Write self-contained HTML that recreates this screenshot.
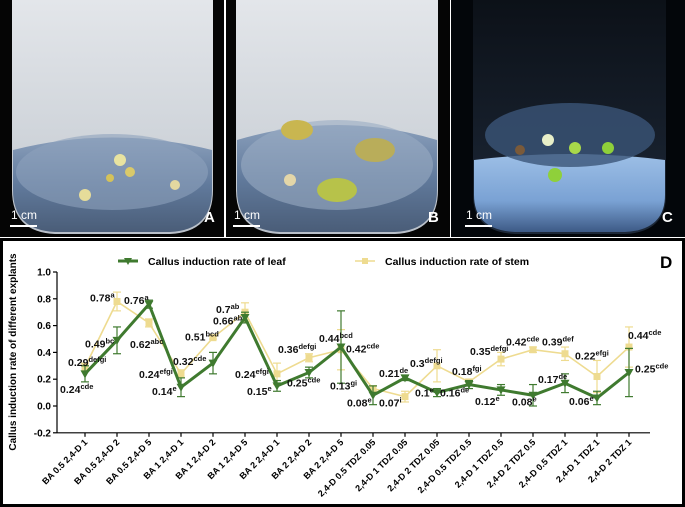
<!DOCTYPE html>
<html><head><meta charset="utf-8"><style>
body{margin:0;background:#fff;width:685px;height:507px;overflow:hidden;font-family:"Liberation Sans",sans-serif}
svg{display:block}
</style></head><body>
<svg id="fig" width="685" height="507" viewBox="0 0 685 507" xmlns="http://www.w3.org/2000/svg">
<defs>
<linearGradient id="glassA" x1="0" y1="0" x2="0" y2="1"><stop offset="0" stop-color="#e3e6ea"/><stop offset="0.6" stop-color="#cfd4da"/><stop offset="1" stop-color="#b9c0c9"/></linearGradient>
<linearGradient id="liqA" x1="0" y1="0" x2="0" y2="1"><stop offset="0" stop-color="#8a9fbb"/><stop offset="0.5" stop-color="#617a9c"/><stop offset="1" stop-color="#4a5d78"/></linearGradient>
<linearGradient id="glassC" x1="0" y1="0" x2="0" y2="1"><stop offset="0" stop-color="#0c1118"/><stop offset="1" stop-color="#1d2838"/></linearGradient>
<linearGradient id="liqC" x1="0" y1="0" x2="0" y2="1"><stop offset="0" stop-color="#9dbfe6"/><stop offset="0.6" stop-color="#7aa2d4"/><stop offset="1" stop-color="#3d5a86"/></linearGradient>
</defs>
<g>
<rect x="0" y="0" width="224" height="237" fill="#050505"/>
<path d="M12 0 H213 V190 Q213 232 170 234 H55 Q12 232 12 190 Z" fill="url(#glassA)"/>
<path d="M13 150 Q112 125 212 150 V190 Q212 230 170 232 H55 Q13 230 13 190 Z" fill="url(#liqA)"/>
<ellipse cx="112" cy="172" rx="96" ry="38" fill="#8ea2bd" opacity="0.6"/>
<circle cx="120" cy="160" r="6" fill="#e8e3a0"/><circle cx="130" cy="172" r="5" fill="#d9c96a"/><circle cx="85" cy="195" r="6" fill="#e6dc9a"/><circle cx="175" cy="185" r="5" fill="#e3d8a0"/><circle cx="110" cy="178" r="4" fill="#d4c25a"/>
<rect x="10" y="225" width="27" height="2" fill="#fff"/>
<text x="11" y="219" font-size="12" fill="#fff">1 cm</text>
<text x="204" y="222" font-size="15" font-weight="bold" fill="#fff">A</text>
</g>
<g>
<rect x="226" y="0" width="224" height="237" fill="#050505"/>
<path d="M236 0 H438 V190 Q438 232 395 234 H280 Q236 232 236 190 Z" fill="url(#glassA)"/>
<path d="M237 140 Q337 110 437 140 V190 Q437 230 395 232 H280 Q237 230 237 190 Z" fill="url(#liqA)"/>
<ellipse cx="337" cy="165" rx="96" ry="45" fill="#99abc3" opacity="0.6"/>
<ellipse cx="297" cy="130" rx="16" ry="10" fill="#c9b650"/><ellipse cx="375" cy="150" rx="20" ry="12" fill="#b9ad5a"/><ellipse cx="337" cy="190" rx="20" ry="12" fill="#b7c24a"/><circle cx="290" cy="180" r="6" fill="#e3d6a8"/>
<rect x="233" y="225" width="27" height="2" fill="#fff"/>
<text x="234" y="219" font-size="12" fill="#fff">1 cm</text>
<text x="428" y="222" font-size="15" font-weight="bold" fill="#fff">B</text>
</g>
<g>
<rect x="451" y="0" width="234" height="237" fill="#03060a"/>
<path d="M473 0 H666 V195 Q666 232 625 234 H515 Q473 232 473 195 Z" fill="url(#glassC)"/>
<path d="M474 160 Q570 148 665 160 V195 Q665 230 625 232 H515 Q474 230 474 195 Z" fill="url(#liqC)"/>
<ellipse cx="570" cy="135" rx="85" ry="32" fill="#3b5578" opacity="0.8"/>
<circle cx="548" cy="140" r="6" fill="#e8efc8"/><circle cx="575" cy="148" r="6" fill="#a8d84a"/><circle cx="608" cy="148" r="6" fill="#8fd03a"/><circle cx="555" cy="175" r="7" fill="#8fd03a"/><circle cx="520" cy="150" r="5" fill="#7a5a3a"/>
<rect x="465" y="225" width="27" height="2" fill="#fff"/>
<text x="466" y="219" font-size="12" fill="#fff">1 cm</text>
<text x="662" y="222" font-size="15" font-weight="bold" fill="#fff">C</text>
</g>
<rect x="1.5" y="239.5" width="682" height="266" fill="#fff" stroke="#000" stroke-width="3"/>
<text x="660" y="268" font-size="17" font-weight="bold">D</text>
<text transform="translate(16,352) rotate(-90)" text-anchor="middle" font-size="10" font-weight="bold">Callus induction rate of different explants</text>
<g>
<g><line x1="118" y1="261" x2="138" y2="261" stroke="#3f7a2f" stroke-width="3"/><path d="M124 258 H132 L128 265 Z" fill="#3f7a2f"/><text x="148" y="265" font-size="10.5" font-weight="bold">Callus induction rate of leaf</text></g>
<g><line x1="355" y1="261" x2="375" y2="261" stroke="#eedb90" stroke-width="1.5"/><rect x="362" y="258" width="6" height="6" fill="#eedb90"/><text x="385" y="265" font-size="10.5" font-weight="bold">Callus induction rate of stem</text></g>
</g>
<g id="plot"></g>
</svg>
<script>
const categories=["BA 0.5 2,4-D 1","BA 0.5 2,4-D 2","BA 0.5 2,4-D 5","BA 1 2,4-D 1","BA 1 2,4-D 2","BA 1 2,4-D 5","BA 2 2,4-D 1","BA 2 2,4-D 2","BA 2 2,4-D 5","2,4-D 0.5 TDZ 0.05","2,4-D 1 TDZ 0.05","2,4-D 2 TDZ 0.05","2,4-D 0.5 TDZ 0.5","2,4-D 1 TDZ 0.5","2,4-D 2 TDZ 0.5","2,4-D 0.5 TDZ 1","2,4-D 1 TDZ 1","2,4-D 2 TDZ 1"];
const leafValues=[0.24,0.49,0.76,0.14,0.32,0.66,0.15,0.25,0.44,0.08,0.21,0.1,0.16,0.12,0.08,0.17,0.06,0.25];
const leafErrors=[0.06,0.1,0.03,0.07,0.08,0.04,0.04,0.04,0.27,0.07,0.02,0.03,0.03,0.04,0.08,0.07,0.05,0.18];
const leafLetters=["cde","bc","a","e","cde","ab","e","cde","bcd","e","de","e","de","e","e","de","e","cde"];
const stemValues=[0.29,0.78,0.62,0.24,0.51,0.7,0.24,0.36,0.42,0.13,0.07,0.3,0.18,0.35,0.42,0.39,0.22,0.44];
const stemErrors=[0.03,0.07,0.03,0.03,0.01,0.07,0.08,0.03,0.15,0.02,0.04,0.12,0.02,0.05,0.02,0.05,0.12,0.15];
const stemLetters=["defgi","a","abc","efgi","bcd","ab","efgi","defgi","cde","gi","i","defgi","fgi","defgi","cde","def","efgi","cde"];
const yTicks=[-0.2,0,0.2,0.4,0.6,0.8,1.0];
const leafLabelDx=[-25,-32,-25,-29,-40,-32,-30,-22,-22,-26,-26,-22,-29,-26,-21,-27,-28,6];
const leafLabelDy=[19,7,0,8,2,7,9,14,-5,11,-1,4,12,15,10,0,7,0];
const stemLabelDx=[-17,-27,-19,-42,-28,-29,-42,-31,5,-43,-26,-27,-17,-31,-27,-23,-22,-1];
const stemLabelDy=[-1,0,25,4,3,1,4,-5,3,1,10,1,-7,-4,-4,-8,-17,-8];

const NS="http://www.w3.org/2000/svg";
const plot=document.getElementById('plot');
const x0=85,dxC=32,yZero=406,ppu=134;
const X=i=>x0+i*dxC;
const Y=v=>yZero-v*ppu;
function mk(tag,attrs,parent){const e=document.createElementNS(NS,tag);for(const k in attrs)e.setAttribute(k,attrs[k]);(parent||plot).appendChild(e);return e;}
const ya=mk('line',{x1:57,y1:Y(1.0),x2:57,y2:Y(-0.2),stroke:'#000','stroke-width':1.2});


const xa=mk('line',{x1:57,y1:Y(-0.2),x2:650,y2:Y(-0.2),stroke:'#000','stroke-width':1.2});


yTicks.forEach(t=>{
  mk('line',{x1:53,y1:Y(t),x2:57,y2:Y(t),stroke:'#000','stroke-width':1.2});
  const tx=mk('text',{x:51,y:Y(t)+3.5,'text-anchor':'end','font-size':10,'font-weight':'bold'});
  tx.textContent=t.toFixed(1);
  
  
});
categories.forEach((c,i)=>{
  mk('line',{x1:X(i),y1:Y(-0.2),x2:X(i),y2:Y(-0.2)+4,stroke:'#000','stroke-width':1.2});
  const tx=mk('text',{transform:`translate(${X(i)+3},${Y(-0.2)+10}) rotate(-45)`,'text-anchor':'end','font-size':9,'font-weight':'bold'});
  tx.textContent=c;
  
  
});
function series(vals,errs,color,lw,kind,name){
  const g=mk('g',{});
  
  
  vals.forEach((v,i)=>{
    const e=errs[i];
    mk('line',{x1:X(i),y1:Y(v-e),x2:X(i),y2:Y(v+e),stroke:color,'stroke-width':1.2},g);
    mk('line',{x1:X(i)-4,y1:Y(v-e),x2:X(i)+4,y2:Y(v-e),stroke:color,'stroke-width':1.2},g);
    mk('line',{x1:X(i)-4,y1:Y(v+e),x2:X(i)+4,y2:Y(v+e),stroke:color,'stroke-width':1.2},g);
  });
  const ln=mk('polyline',{points:vals.map((v,i)=>X(i)+','+Y(v)).join(' '),fill:'none',stroke:color,'stroke-width':lw,'stroke-linejoin':'miter'},g);
  
  
  vals.forEach((v,i)=>{
    let m;
    if(kind==='tri') m=mk('path',{d:`M${X(i)-4.5} ${Y(v)-3.5} H${X(i)+4.5} L${X(i)} ${Y(v)+4.5} Z`,fill:color},g);
    else m=mk('rect',{x:X(i)-3.5,y:Y(v)-3.5,width:7,height:7,fill:color},g);
    
    
  });
}
series(stemValues,stemErrors,'#eedb90',1.6,'sq','stem');
series(leafValues,leafErrors,'#3f7a2f',3,'tri','leaf');
function labels(vals,letters,dxs,dys,name){
  vals.forEach((v,i)=>{
    const t=mk('text',{x:X(i)+dxs[i],y:Y(v)+dys[i],'font-size':10.5,'font-weight':'bold',fill:'#111'});
    
    
    const a=mk('tspan',{},t);a.textContent=String(v);
    const b=mk('tspan',{dy:-4,'font-size':7.5},t);b.textContent=letters[i];
  });
}
labels(stemValues,stemLetters,stemLabelDx,stemLabelDy,'stem');
labels(leafValues,leafLetters,leafLabelDx,leafLabelDy,'leaf');
</script>
</body></html>
